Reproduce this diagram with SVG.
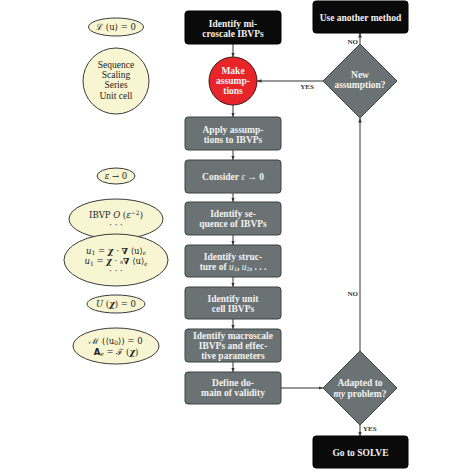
<svg xmlns="http://www.w3.org/2000/svg" width="474" height="474" viewBox="0 0 474 474">
<defs>
<marker id="ah" viewBox="0 0 8 8" refX="8" refY="4" markerWidth="4.5" markerHeight="4.5" orient="auto" markerUnits="userSpaceOnUse">
<path d="M0,0.8 L8,4 L0,7.2 z" fill="#333"/>
</marker>
<style>
.t{font-family:"Liberation Serif","DejaVu Serif",serif;font-size:9.5px;font-weight:bold;text-anchor:middle;fill:#f2f2f2}
.e{font-family:"Liberation Serif","DejaVu Serif",serif;font-size:9.5px;text-anchor:middle;fill:#222}
.m{font-family:"DejaVu Serif","Liberation Serif",serif;font-size:8.5px;text-anchor:middle;fill:#222}
.lb{font-family:"Liberation Serif","DejaVu Serif",serif;font-size:7px;font-weight:bold;fill:#333}
.gray{fill:#6b7273;stroke:#3d4345;stroke-width:1}
.blk{fill:#0a0a0a;stroke:#000;stroke-width:1}
.ell{fill:#f8f6d2;stroke:#3a3a3a;stroke-width:1}
.c{stroke:#333;stroke-width:1;fill:none;marker-end:url(#ah)}
</style>
</defs>
<rect width="474" height="474" fill="#fff"/>
<g id="connectors">
<line class="c" x1="233" y1="44" x2="233" y2="57"/>
<line class="c" x1="233" y1="105" x2="233" y2="117"/>
<line class="c" x1="233" y1="150" x2="233" y2="160"/>
<line class="c" x1="233" y1="193" x2="233" y2="202"/>
<line class="c" x1="233" y1="235" x2="233" y2="245"/>
<line class="c" x1="233" y1="277" x2="233" y2="287"/>
<line class="c" x1="233" y1="319" x2="233" y2="329"/>
<line class="c" x1="233" y1="362" x2="233" y2="372"/>
<line class="c" x1="281" y1="388" x2="323" y2="388"/>
<line class="c" x1="360" y1="425" x2="360" y2="436"/>
<line class="c" x1="360" y1="351" x2="360" y2="118"/>
<line class="c" x1="360" y1="44" x2="360" y2="33"/>
<line class="c" x1="323" y1="81" x2="257" y2="81"/>
<text class="lb" x="358" y="43.5" text-anchor="end">NO</text>
<text class="lb" x="358" y="295.5" text-anchor="end">NO</text>
<text class="lb" x="307" y="89" text-anchor="middle">YES</text>
<text class="lb" x="363" y="430.5">YES</text>
</g>
<g id="n-identify-micro">
<rect class="blk" x="185" y="11" width="96" height="33" rx="3"/>
<text class="t" x="233" y="26.5">Identify mi-</text>
<text class="t" x="233" y="36.5">croscale IBVPs</text>
</g>
<g id="n-make">
<circle cx="233" cy="81" r="24" fill="#e8262a" stroke="#3a1a1a" stroke-width="1"/>
<text class="t" x="233" y="74.3">Make</text>
<text class="t" x="233" y="84.3">assump-</text>
<text class="t" x="233" y="94">tions</text>
</g>
<g id="n-apply">
<rect class="gray" x="185" y="117" width="96" height="33" rx="3"/>
<text class="t" x="233" y="132.5">Apply assump-</text>
<text class="t" x="233" y="142.5">tions to IBVPs</text>
</g>
<g id="n-consider">
<rect class="gray" x="185" y="160" width="96" height="33" rx="3"/>
<text class="t" x="233" y="179.5">Consider <tspan font-style="italic" font-weight="normal">ε</tspan> → 0</text>
</g>
<g id="n-sequence">
<rect class="gray" x="185" y="202" width="96" height="33" rx="3"/>
<text class="t" x="233" y="216.5">Identify se-</text>
<text class="t" x="233" y="226.5">quence of IBVPs</text>
</g>
<g id="n-structure">
<rect class="gray" x="185" y="245" width="96" height="32" rx="3"/>
<text class="t" x="233" y="259.5">Identify struc-</text>
<text class="t" x="233" y="269.5">ture of <tspan font-style="italic" font-weight="normal">u</tspan><tspan font-size="6.5" dy="1.5" font-weight="normal">1</tspan><tspan dy="-1.5">, </tspan><tspan font-style="italic" font-weight="normal">u</tspan><tspan font-size="6.5" dy="1.5" font-weight="normal">2</tspan><tspan dy="-1.5">, . . .</tspan></text>
</g>
<g id="n-unitcell">
<rect class="gray" x="185" y="287" width="96" height="32" rx="3"/>
<text class="t" x="233" y="301.5">Identify unit</text>
<text class="t" x="233" y="311.5">cell IBVPs</text>
</g>
<g id="n-macro">
<rect class="gray" x="185" y="329" width="96" height="33" rx="3"/>
<text class="t" x="233" y="338.5">Identify macroscale</text>
<text class="t" x="233" y="348.5">IBVPs and effec-</text>
<text class="t" x="233" y="358.5">tive parameters</text>
</g>
<g id="n-define">
<rect class="gray" x="185" y="372" width="96" height="32" rx="3"/>
<text class="t" x="233" y="386">Define do-</text>
<text class="t" x="233" y="396">main of validity</text>
</g>
<g id="n-use-another">
<rect class="blk" x="313" y="1" width="95" height="32" rx="3"/>
<text class="t" x="360.5" y="20.5">Use another method</text>
</g>
<g id="n-new-assumption">
<polygon class="gray" points="360,44 397,81 360,118 323,81"/>
<text class="t" x="360" y="78.3">New</text>
<text class="t" x="360" y="88.3">assumption?</text>
</g>
<g id="n-adapted">
<polygon class="gray" points="360,351 397,388 360,425 323,388"/>
<text class="t" x="360" y="386">Adapted to</text>
<text class="t" x="360" y="396.5"><tspan font-style="italic">my</tspan> problem?</text>
</g>
<g id="n-solve">
<rect class="blk" x="313" y="436" width="95" height="32" rx="3"/>
<text class="t" x="360.5" y="455.5">Go to SOLVE</text>
</g>
<g id="n-L">
<ellipse class="ell" cx="116" cy="27" rx="27.5" ry="9"/>
<text class="m" x="116" y="30.2">ℒ (u) = 0</text>
</g>
<g id="n-seq-circle">
<circle class="ell" cx="116" cy="81" r="33"/>
<text class="e" x="116" y="68.3">Sequence</text>
<text class="e" x="116" y="78.3">Scaling</text>
<text class="e" x="116" y="88.3">Series</text>
<text class="e" x="116" y="98.8">Unit cell</text>
</g>
<g id="n-eps">
<ellipse class="ell" cx="116" cy="176" rx="19" ry="8"/>
<text class="m" x="116" y="179.2"><tspan font-style="italic">ε</tspan> → 0</text>
</g>
<g id="n-ibvp">
<ellipse class="ell" cx="116" cy="219" rx="47" ry="20"/>
<text class="m" x="116" y="217.5">IBVP <tspan font-style="italic">O</tspan> (<tspan font-style="italic">ε</tspan><tspan font-size="6" dy="-3">−2</tspan><tspan dy="3">)</tspan></text>
<text class="m" x="116" y="228">· · ·</text>
</g>
<g id="n-u1">
<ellipse class="ell" cx="116" cy="260" rx="52" ry="26"/>
<text class="m" x="116" y="253.5"><tspan font-style="italic">u</tspan><tspan font-size="6" dy="1.5">1</tspan><tspan dy="-1.5"> = </tspan><tspan font-weight="bold" font-style="italic">χ</tspan> · <tspan font-weight="bold">∇</tspan> ⟨u⟩<tspan font-size="6" dy="1.5" font-style="italic">ε</tspan></text>
<text class="m" x="116" y="264"><tspan font-style="italic">u</tspan><tspan font-size="6" dy="1.5">1</tspan><tspan dy="-1.5"> = </tspan><tspan font-weight="bold" font-style="italic">χ</tspan> · <tspan font-size="6">s</tspan><tspan font-weight="bold">∇</tspan> ⟨u⟩<tspan font-size="6" dy="1.5" font-style="italic">ε</tspan></text>
<text class="m" x="116" y="274">· · ·</text>
</g>
<g id="n-U">
<ellipse class="ell" cx="116" cy="304" rx="29" ry="9"/>
<text class="m" x="116" y="307.2"><tspan font-style="italic">U</tspan> (<tspan font-weight="bold" font-style="italic">χ</tspan>) = 0</text>
</g>
<g id="n-M">
<ellipse class="ell" cx="116" cy="346" rx="43" ry="18"/>
<text class="m" x="116" y="343.5">ℳ (⟨u<tspan font-size="6" dy="1.5">0</tspan><tspan dy="-1.5">⟩) = 0</tspan></text>
<text class="m" x="116" y="354.5"><tspan font-family="DejaVu Sans,sans-serif" font-weight="bold">A</tspan><tspan font-size="6" dy="1.5" font-style="italic">e</tspan><tspan dy="-1.5"> = ℱ (</tspan><tspan font-weight="bold" font-style="italic">χ</tspan>)</text>
</g>
</svg>
